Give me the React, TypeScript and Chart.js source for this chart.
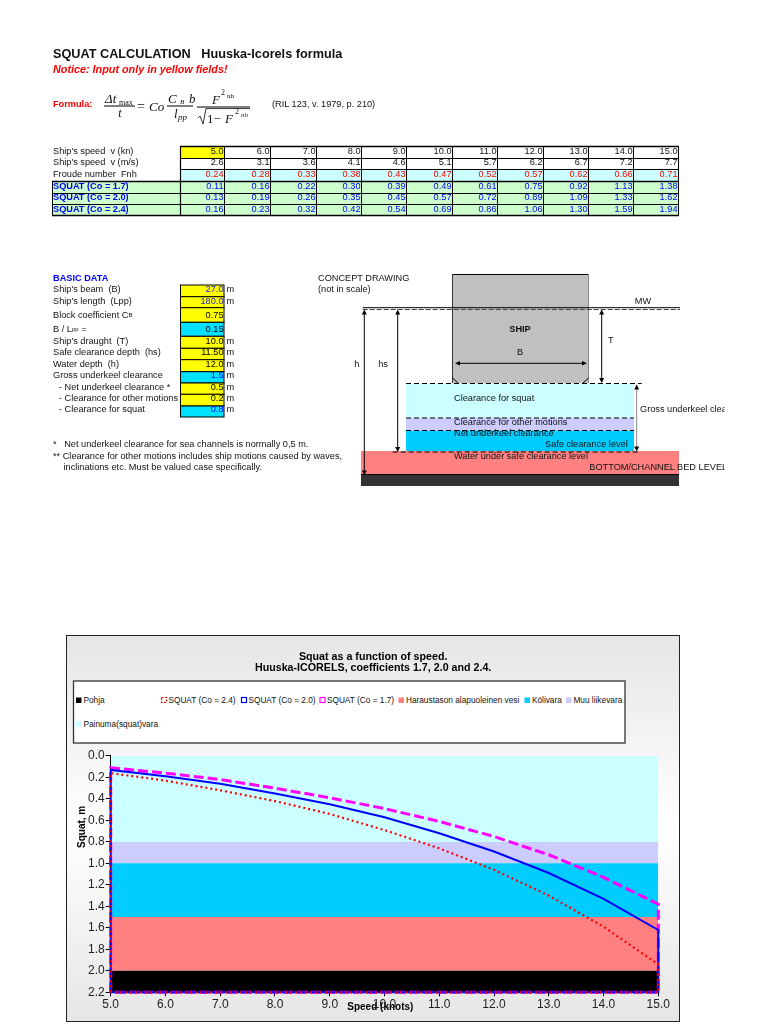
import React, { useEffect, useRef } from "react";
import { Chart, registerables } from "chart.js";

Chart.register(...registerables);

// ---------- data ----------
const speedKn = [5, 6, 7, 8, 9, 10, 11, 12, 13, 14, 15];
const speedMs = [2.6, 3.1, 3.6, 4.1, 4.6, 5.1, 5.7, 6.2, 6.7, 7.2, 7.7];
const froude = [0.24, 0.28, 0.33, 0.38, 0.43, 0.47, 0.52, 0.57, 0.62, 0.66, 0.71];
const squat17 = [0.11, 0.16, 0.22, 0.3, 0.39, 0.49, 0.61, 0.75, 0.92, 1.13, 1.38];
const squat20 = [0.13, 0.19, 0.26, 0.35, 0.45, 0.57, 0.72, 0.89, 1.09, 1.33, 1.62];
const squat24 = [0.16, 0.23, 0.32, 0.42, 0.54, 0.69, 0.86, 1.06, 1.3, 1.59, 1.94];
const painumaLevel = [0.8, 0.8, 0.8, 0.8, 0.8, 0.8, 0.8, 0.8, 0.8, 0.8, 0.8];
const muuLevel = [1, 1, 1, 1, 1, 1, 1, 1, 1, 1, 1];
const koliLevel = [1.5, 1.5, 1.5, 1.5, 1.5, 1.5, 1.5, 1.5, 1.5, 1.5, 1.5];
const harausLevel = [2, 2, 2, 2, 2, 2, 2, 2, 2, 2, 2];
const pohjaLevel = [2.2, 2.2, 2.2, 2.2, 2.2, 2.2, 2.2, 2.2, 2.2, 2.2, 2.2];
const axisBottom = 2.2;
const xTicksLabelFixed = 1;

const basicLabels = [
  "Ship's beam  (B)",
  "Ship's length  (Lpp)",
  "Block coefficient C",
  "B / L",
  "Ship's draught  (T)",
  "Safe clearance depth  (hs)",
  "Water depth  (h)",
  "Gross underkeel clearance",
  "- Net underkeel clearance *",
  "- Clearance for other motions **",
  "- Clearance for squat",
];
const basicValues = ["27.0", "180.0", "0.75", "0.15", "10.0", "11.50", "12.0", "1.5", "0.5", "0.2", "0.8"];

// ---------- layout / styles ----------
const FONT = "'Liberation Sans', Arial, sans-serif";
const SERIF = "'Liberation Serif', 'Times New Roman', serif";
const colX = [180, 224, 270, 316, 361, 406, 452, 497, 543, 588, 633, 678];
const rowY = [146, 158, 169, 181, 193, 204, 215];
const rowText = [150.7, 162, 174, 186, 197, 209];
const basicY = [285, 296.7, 307.7, 322.3, 336.3, 348.3, 359.7, 371.7, 383, 394.3, 406, 417];
const basicText = [289, 301, 315, 329, 341, 352, 364, 375, 387, 398, 409];
const basicColors = ["#2020d0", "#2020d0", "#000", "#000", "#000", "#000", "#000", "#0000ff", "#000", "#000", "#0000ff"];
const basicFill = ["#ffff00", "#ffff00", "#ffff00", "#00e1ff", "#ffff00", "#ffff00", "#ffff00", "#00e1ff", "#ffff00", "#ffff00", "#00e1ff"];
const basicUnit = [true, true, false, false, true, true, true, true, true, true, true];
const basicIndent = [0, 0, 0, 0, 0, 0, 0, 0, 6, 6, 6];

const legendItems = [
  { label: "Pohja", x: 76, y: 700, fill: "#000000", stroke: "" },
  { label: "SQUAT (Co = 2.4)", x: 161, y: 700, fill: "none", stroke: "#ff0000", dash: "2 1.5" },
  { label: "SQUAT (Co = 2.0)", x: 241, y: 700, fill: "none", stroke: "#0000ff" },
  { label: "SQUAT (Co = 1.7)", x: 319.5, y: 700, fill: "none", stroke: "#ff00ff" },
  { label: "Haraustason alapuoleinen vesi", x: 398.5, y: 700, fill: "#ff8080", stroke: "" },
  { label: "Kölivara", x: 524.5, y: 700, fill: "#00ccff", stroke: "" },
  { label: "Muu liikevara", x: 566, y: 700, fill: "#ccccff", stroke: "" },
  { label: "Painuma(squat)vara", x: 76, y: 724, fill: "#ccffff", stroke: "" },
];

type TP = { x: number; y: number; s?: number; c?: string; b?: boolean; i?: boolean; a?: "start" | "middle" | "end"; f?: string; children: React.ReactNode; clip?: string };
const T = ({ x, y, s = 9.2, c = "#111", b, i, a = "start", f = FONT, children, clip }: TP) => (
  <text
    x={x}
    y={y}
    fontSize={s}
    fill={c}
    fontFamily={f}
    fontWeight={b ? 700 : 400}
    fontStyle={i ? "italic" : "normal"}
    textAnchor={a}
    dominantBaseline="central"
    clipPath={clip}
    xmlSpace="preserve"
    style={{ whiteSpace: "pre" }}
  >
    {children}
  </text>
);

const Line = ({ x1, y1, x2, y2, w = 1, c = "#000", d }: { x1: number; y1: number; x2: number; y2: number; w?: number; c?: string; d?: string }) => (
  <line x1={x1} y1={y1} x2={x2} y2={y2} stroke={c} strokeWidth={w} strokeDasharray={d} />
);

const VArrow = ({ x, y1, y2, c = "#000" }: { x: number; y1: number; y2: number; c?: string }) => (
  <g>
    <Line x1={x} y1={y1 + 3} x2={x} y2={y2 - 3} c={c} />
    <polygon points={`${x},${y1} ${x - 2.5},${y1 + 5} ${x + 2.5},${y1 + 5}`} fill="#000" />
    <polygon points={`${x},${y2} ${x - 2.5},${y2 - 5} ${x + 2.5},${y2 - 5}`} fill="#000" />
  </g>
);

const Formula = () => (
  <g>
    <T x={105} y={98} s={13} i f={SERIF}>Δt</T>
    <T x={119} y={102} s={8} f={SERIF}>max</T>
    <Line x1={104} y1={106} x2={135} y2={106} w={1} />
    <T x={120} y={113} s={12} i f={SERIF} a="middle">t</T>
    <T x={137} y={106} s={14} f={SERIF}>=</T>
    <T x={149} y={106} s={13} i f={SERIF}>Co</T>
    <T x={168} y={98} s={13} i f={SERIF}>C</T>
    <T x={180} y={102} s={7} i f={SERIF}>B</T>
    <T x={189} y={98} s={13} i f={SERIF}>b</T>
    <Line x1={167} y1={106} x2={193} y2={106} w={1} />
    <T x={174} y={113} s={13} i f={SERIF}>l</T>
    <T x={178} y={117} s={9} i f={SERIF}>pp</T>
    <T x={212} y={99} s={13} i f={SERIF}>F</T>
    <T x={221} y={92} s={8} f={SERIF}>2</T>
    <T x={227} y={96} s={7} f={SERIF}>nh</T>
    <Line x1={197} y1={107} x2={250} y2={107} w={1} />
    <path d="M198,118 L200,116 L203,124 L206,108.6 L250,108.6" fill="none" stroke="#000" strokeWidth={0.8} />
    <T x={207} y={118} s={13} f={SERIF}>1−</T>
    <T x={225} y={118} s={13} i f={SERIF}>F</T>
    <T x={235} y={111} s={8} f={SERIF}>2</T>
    <T x={241} y={115} s={7} i f={SERIF}>nh</T>
  </g>
);

const SpeedTable = () => {
  const rows = [
    { label: "Ship's speed  v (kn)", vals: speedKn.map((v) => v.toFixed(1)), color: "#111" },
    { label: "Ship's speed  v (m/s)", vals: speedMs.map((v) => v.toFixed(1)), color: "#111" },
    { label: "Froude number  Fnh", vals: froude.map((v) => v.toFixed(2)), color: "#ff0000" },
    { label: "SQUAT (Co = 1.7)", vals: squat17.map((v) => v.toFixed(2)), color: "#0000ff", bold: true },
    { label: "SQUAT (Co = 2.0)", vals: squat20.map((v) => v.toFixed(2)), color: "#0000ff", bold: true },
    { label: "SQUAT (Co = 2.4)", vals: squat24.map((v) => v.toFixed(2)), color: "#0000ff", bold: true },
  ];
  const left = colX[0];
  const right = colX[colX.length - 1];
  return (
    <g>
      <rect x={left} y={rowY[2]} width={right - left} height={rowY[3] - rowY[2]} fill="#ccffff" />
      <rect x={52} y={rowY[3]} width={right - 52} height={rowY[6] - rowY[3]} fill="#ccffcc" />
      <rect x={colX[0]} y={rowY[0]} width={colX[1] - colX[0]} height={rowY[1] - rowY[0]} fill="#ffff00" />
      {rowY.map((y, r) => (
        <Line key={r} x1={r >= 3 ? 52 : left} y1={y + 0.5} x2={right + 1} y2={y + 0.5} w={r === 3 || r === 6 || r === 0 ? 1.4 : 1} />
      ))}
      {colX.map((x, c) => (
        <Line key={c} x1={x + 0.5} y1={rowY[0]} x2={x + 0.5} y2={rowY[6] + 1} w={c === 0 ? 1.2 : 1} />
      ))}
      <Line x1={52.5} y1={rowY[3]} x2={52.5} y2={rowY[6] + 1} />
      {rows.map((row, r) => (
        <g key={r}>
          <T x={53} y={rowText[r]} b={row.bold} c={row.bold ? "#0000ff" : "#111"}>{row.label}</T>
          {row.vals.map((v, c) => (
            <T key={c} x={colX[c + 1] - 0.5} y={rowText[r]} a="end" c={row.color}>{v}</T>
          ))}
        </g>
      ))}
    </g>
  );
};

const BasicData = () => (
  <g>
    <T x={53} y={277.7} b c="#0000ff">BASIC DATA</T>
    {basicLabels.map((l, i) => (
      <T key={i} x={53 + basicIndent[i]} y={basicText[i]}>
        {l}
        {i === 2 ? <tspan fontSize={6}>B</tspan> : null}
        {i === 3 ? (
          <>
            <tspan fontSize={6}>pp</tspan> =
          </>
        ) : null}
      </T>
    ))}
    {basicValues.map((v, i) => (
      <g key={i}>
        <rect x={180.5} y={basicY[i]} width={43.5} height={basicY[i + 1] - basicY[i]} fill={basicFill[i]} stroke="#000" strokeWidth={1} />
        <T x={223.5} y={basicText[i]} a="end" c={basicColors[i]}>{v}</T>
        {basicUnit[i] ? <T x={226.5} y={basicText[i]}>m</T> : null}
      </g>
    ))}
    <T x={53} y={443.7}>*   Net underkeel clearance for sea channels is normally 0,5 m.</T>
    <T x={53} y={456}>** Clearance for other motions includes ship motions caused by waves,</T>
    <T x={63.5} y={467}>inclinations etc. Must be valued case specifically.</T>
  </g>
);

const Concept = () => (
  <g>
    <defs>
      <clipPath id="pageClip">
        <rect x={0} y={0} width={724.5} height={1024} />
      </clipPath>
    </defs>
    <T x={318} y={277.7}>CONCEPT DRAWING</T>
    <T x={318} y={289}>(not in scale)</T>
    <rect x={452.3} y={274} width={136.4} height={109.3} fill="#c0c0c0" />
    <Line x1={452} y1={274.5} x2={589} y2={274.5} />
    <Line x1={452.5} y1={274} x2={452.5} y2={383} c="#333" />
    <Line x1={588.5} y1={274} x2={588.5} y2={383} c="#888" />
    <Line x1={452.5} y1={378} x2={458} y2={383} />
    <Line x1={588.5} y1={378} x2={583} y2={383} />
    <rect x={406} y={383.5} width={228} height={34.5} fill="#ccffff" />
    <rect x={406} y={418} width={228} height={12.5} fill="#ccccff" />
    <rect x={406} y={430.5} width={228} height={21} fill="#00ccff" />
    <rect x={361} y={451} width={318} height={23.5} fill="#ff8080" />
    <rect x={361} y={474.5} width={318} height={11.5} fill="#333333" />
    <Line x1={361} y1={474.5} x2={679} y2={474.5} w={1} />
    <Line x1={362.7} y1={307.7} x2={680} y2={307.7} />
    <Line x1={362.7} y1={309.5} x2={680} y2={309.5} d="5 2" c="#444" />
    <T x={643} y={300.7} a="middle">MW</T>
    <T x={520} y={329} a="middle" b>SHIP</T>
    <T x={520} y={351.7} a="middle">B</T>
    <T x={610.7} y={340} a="middle">T</T>
    <T x={356.7} y={364} a="middle">h</T>
    <T x={383} y={364} a="middle">hs</T>
    <Line x1={457} y1={363.3} x2={585} y2={363.3} />
    <polygon points="455,363.3 460,361 460,365.6" fill="#000" />
    <polygon points="587,363.3 582,361 582,365.6" fill="#000" />
    <VArrow x={601.7} y1={309.5} y2={383} />
    <VArrow x={364.3} y1={309.5} y2={475.5} />
    <VArrow x={397.7} y1={309.5} y2={452} />
    <VArrow x={636.7} y1={384.5} y2={451.5} c="#888" />
    <Line x1={406} y1={383.5} x2={641.7} y2={383.5} d="5 3" />
    <Line x1={406} y1={418} x2={634} y2={418} d="5 3" />
    <Line x1={406} y1={430.5} x2={634} y2={430.5} d="5 3" />
    <Line x1={392.7} y1={452} x2={639} y2={452} d="5 3" />
    <T x={454} y={398}>Clearance for squat</T>
    <T x={454} y={421.7}>Clearance for other motions</T>
    <T x={454} y={432.7}>Net underkeel clearance</T>
    <T x={545} y={443.7}>Safe clearance level</T>
    <T x={454} y={456}>Water under safe clearance level</T>
    <T x={589.3} y={466.7} clip="url(#pageClip)">BOTTOM/CHANNEL BED LEVEL</T>
    <T x={640} y={409} clip="url(#pageClip)">Gross underkeel clearance</T>
  </g>
);

const Legend = () => (
  <g>
    <rect x={73.5} y={681} width={551.5} height={62} fill="#fff" stroke="#333" strokeWidth={1.3} />
    {legendItems.map((it) => (
      <g key={it.label}>
        <rect
          x={it.x + (it.stroke ? 0.5 : 0)}
          y={it.y - 2.5}
          width={it.stroke ? 5 : 5.5}
          height={it.stroke ? 5 : 5.5}
          fill={it.fill}
          stroke={it.stroke || "none"}
          strokeWidth={1.2}
          strokeDasharray={it.dash}
        />
        <T x={it.x + 7.4} y={it.y} s={8.3}>{it.label}</T>
      </g>
    ))}
  </g>
);

const band = (label: string, values: number[], color: string, from: number) => ({
  label,
  data: speedKn.map((x, i) => ({ x, y: values[i] })),
  borderWidth: 0,
  pointRadius: 0,
  backgroundColor: color,
  borderColor: color,
  fill: { value: from },
  showLine: true,
  order: 10,
});

const squatLine = (label: string, values: number[], color: string, width: number, dash: number[], order: number) => ({
  label,
  data: [
    { x: speedKn[0], y: axisBottom },
    ...speedKn.map((x, i) => ({ x, y: values[i] })),
    { x: speedKn[speedKn.length - 1], y: axisBottom },
    { x: speedKn[0], y: axisBottom },
  ],
  borderColor: color,
  backgroundColor: "transparent",
  borderWidth: width,
  borderDash: dash,
  pointRadius: 0,
  showLine: true,
  fill: false,
  clip: false,
  tension: 0,
  order,
});

export default function App() {
  const ref = useRef<HTMLCanvasElement>(null);
  useEffect(() => {
    if (!ref.current) return;
    const chart = new Chart(ref.current, {
      type: "scatter",
      data: {
        datasets: [
          squatLine("SQUAT (Co = 2.4)", squat24, "#ff0000", 2.2, [2, 3], 1),
          squatLine("SQUAT (Co = 2.0)", squat20, "#0000ff", 2, [], 2),
          squatLine("SQUAT (Co = 1.7)", squat17, "#ff00ff", 3, [10, 4], 3),
          band("Pohja", pohjaLevel, "#000000", harausLevel[0]),
          band("Haraustason alapuoleinen vesi", harausLevel, "#ff8080", koliLevel[0]),
          band("Kölivara", koliLevel, "#00ccff", muuLevel[0]),
          band("Muu liikevara", muuLevel, "#ccccff", painumaLevel[0]),
          band("Painuma(squat)vara", painumaLevel, "#ccffff", 0),
        ] as any,
      },
      options: {
        animation: false,
        responsive: false,
        devicePixelRatio: 1,
        layout: { autoPadding: false, padding: { left: 22, right: 21.7, top: 0, bottom: 0 } },
        plugins: {
          legend: { display: false },
          tooltip: { enabled: false },
          title: {
            display: true,
            text: ["Squat as a function of speed.", "Huuska-ICORELS, coefficients 1.7, 2.0 and 2.4."],
            color: "#000",
            font: { family: FONT, size: 10.7, weight: "bold", lineHeight: 1.09 },
            padding: { top: 16, bottom: 81.6 },
          },
        },
        scales: {
          x: {
            type: "linear",
            min: speedKn[0],
            max: speedKn[speedKn.length - 1],
            afterFit: (s: any) => {
              s.height = 29.7;
            },
            ticks: {
              stepSize: 1,
              color: "#222",
              font: { family: FONT, size: 12 },
              padding: 1,
              maxRotation: 0,
              minRotation: 0,
              autoSkip: false,
              callback: (v: any) => Number(v).toFixed(xTicksLabelFixed),
            },
            grid: { drawOnChartArea: false, color: "#000", tickLength: 4 },
            border: { color: "#000" },
            title: {
              display: true,
              text: "Speed (knots)   ",
              color: "#000",
              font: { family: FONT, size: 10, weight: "bold", lineHeight: 1.2 },
              padding: { top: 0, bottom: 9 },
            },
          },
          y: {
            type: "linear",
            reverse: true,
            min: 0,
            max: axisBottom,
            afterFit: (s: any) => {
              s.width = 22.7;
            },
            ticks: {
              stepSize: 0.2,
              color: "#222",
              font: { family: FONT, size: 12 },
              padding: 1,
              autoSkip: false,
              callback: (v: any) => Number(v).toFixed(xTicksLabelFixed),
            },
            grid: { drawOnChartArea: false, color: "#000", tickLength: 5 },
            border: { color: "#000" },
            title: {
              display: true,
              text: " ".repeat(34) + "Squat, m",
              color: "#000",
              font: { family: FONT, size: 10, weight: "bold", lineHeight: 1.2 },
              padding: -12,
            },
          },
        },
      },
    } as any);
    return () => chart.destroy();
  }, []);

  return (
    <div style={{ position: "absolute", left: 0, top: 0, width: 768, height: 1024, overflow: "hidden", background: "#fff" }}>
      <div
        style={{
          position: "absolute",
          left: 66,
          top: 635,
          width: 614,
          height: 387,
          boxSizing: "border-box",
          border: "1px solid #222",
          background: "linear-gradient(#e6e6e6 0%, #ffffff 50%, #e6e6e6 100%)",
        }}
      />
      <canvas ref={ref} width={614} height={387} style={{ position: "absolute", left: 66, top: 635, width: 614, height: 387 }} />
      <svg width={768} height={1024} style={{ position: "absolute", left: 0, top: 0, pointerEvents: "none" }}>
        <T x={53} y={54} s={12.7} b>SQUAT CALCULATION   Huuska-Icorels formula</T>
        <T x={53} y={69} s={10.8} b i c="#ff0000">Notice: Input only in yellow fields!</T>
        <T x={53} y={104} s={9.2} b c="#ff0000">Formula:</T>
        <T x={272} y={104} s={9.2}>(RIL 123, v. 1979, p. 210)</T>
        <Formula />
        <SpeedTable />
        <BasicData />
        <Concept />
        <Legend />
      </svg>
    </div>
  );
}
